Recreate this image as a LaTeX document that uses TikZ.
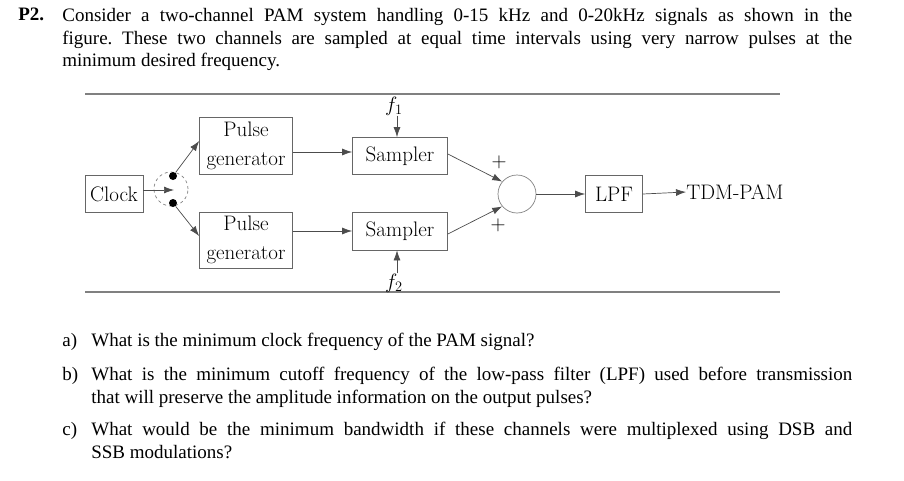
\documentclass[tikz,border=0pt]{standalone}
\usepackage{fontspec}
\newfontfamily\tnr{Liberation Serif}
\usetikzlibrary{arrows.meta}
\begin{document}
\begin{tikzpicture}[x=1pt,y=-1pt,
  line width=0.7pt,
  box/.style={draw=black!60, inner sep=0pt, font=\fontsize{21}{27}\selectfont},
  arr/.style={draw=black!70, -{Latex[length=10pt,width=7pt]}},
  para/.style={font=\tnr\fontsize{19}{22.5}\selectfont\frenchspacing, anchor=north west, inner sep=0pt, align=justify},
  dot/.style={circle, fill=black, inner sep=0pt, minimum size=8pt}]
\useasboundingbox (0,0) rectangle (904,480);
% problem text
\node[para, font=\tnr\bfseries\fontsize{19}{22.5}\selectfont] (p2) at (18,8) {P2.};
\node[para, text width=790pt] (intro) at (62,8) {Consider a two-channel PAM system handling 0-15 kHz and 0-20kHz signals as shown in the\linebreak figure. These two channels are sampled at equal time intervals using very narrow pulses at the\linebreak minimum desired frequency.};
% rules
\draw[black!50, line width=1.2pt] (85,94) -- (780,94);
\draw[black!50, line width=1.2pt] (85,292) -- (780,292);
% blocks
\node[box, minimum width=58pt, minimum height=37pt] (clk) at (114,194) {Clock};
\node[draw=black!50, dashed, circle, minimum size=34pt, inner sep=0pt] (sw) at (171,189) {};
\node[dot] (d1) at (173,176) {};
\node[dot] (d2) at (173,203) {};
\coordinate (swin) at (174,190);
\node[box, minimum width=93pt, minimum height=57pt, align=center] (pg1) at (246,146) {Pulse\\[2pt]generator};
\node[box, minimum width=93pt, minimum height=56pt, align=center] (pg2) at (246,240) {Pulse\\[2pt]generator};
\node[box, minimum width=95pt, minimum height=37pt] (s1) at (400,156) {Sampler};
\node[box, minimum width=95pt, minimum height=38pt] (s2) at (400,231) {Sampler};
\node[font=\fontsize{21}{27}\selectfont, inner sep=0pt] (f1) at (394,106) {$f_1$};
\node[font=\fontsize{21}{27}\selectfont, inner sep=0pt] (f2) at (394,283) {$f_2$};
\node[draw=black!50, circle, minimum size=38pt, inner sep=0pt] (sum) at (517,194) {};
\node[box, minimum width=57pt, minimum height=37pt] (lpf) at (614,194) {LPF};
\node[font=\fontsize{21}{27}\selectfont, inner sep=0pt, anchor=west] (out) at (686,192) {TDM-PAM};
\node[font=\fontsize{21}{27}\selectfont, inner sep=0pt] (pl1) at (499,162) {$+$};
\node[font=\fontsize{21}{27}\selectfont, inner sep=0pt] (pl2) at (498,225) {$+$};
% connectors
\draw[arr] (clk.east |- swin) -- (swin);
\draw[arr] (d1) -- (pg1.west |- 0,141);
\draw[arr] (d2) -- (pg2.west |- 0,236);
\draw[arr] (pg1.east |- 0,152) -- (s1.west |- 0,152);
\draw[arr] (pg2.east |- 0,231) -- (s2.west |- 0,231);
\draw[arr] (f1.south -| 397,0) -- (s1.north -| 397,0);
\draw[arr] (f2.north -| 397,0) -- (s2.south -| 397,0);
\draw[arr] (s1.east |- 0,154) -- (sum.140);
\draw[arr] (s2.east |- 0,234) -- (sum.220);
\draw[arr] (sum.east) -- (lpf.west);
\draw[arr] (lpf.east) -- (out.west);
% questions
\node[para] (qa) at (62,333) {a)};
\node[para, text width=761pt] (ta) at (91,333) {What is the minimum clock frequency of the PAM signal?};
\node[para] (qb) at (62,367) {b)};
\node[para, text width=761pt] (tb) at (91,367) {What is the minimum cutoff frequency of the low-pass filter (LPF) used before transmission\linebreak that will preserve the amplitude information on the output pulses?};
\node[para] (qc) at (62,422) {c)};
\node[para, text width=761pt] (tc) at (91,422) {What would be the minimum bandwidth if these channels were multiplexed using DSB and\linebreak SSB modulations?};
\end{tikzpicture}
\end{document}
